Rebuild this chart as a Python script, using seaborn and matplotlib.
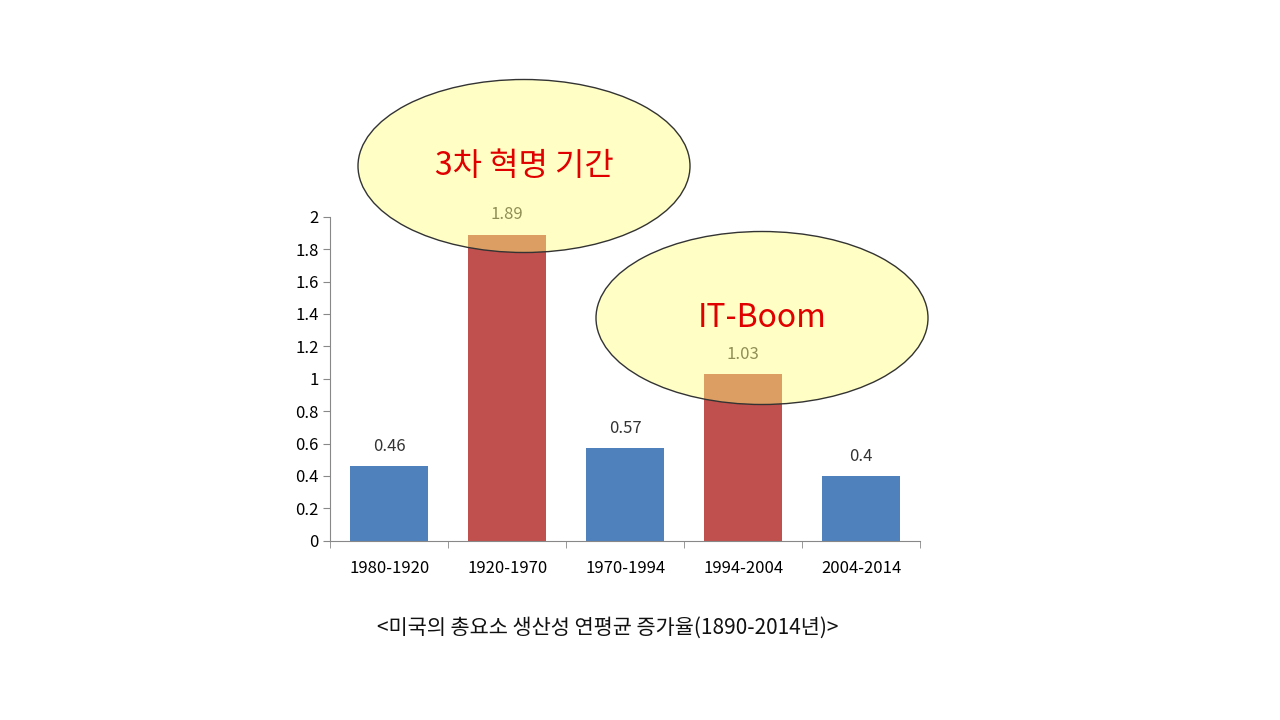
import matplotlib
matplotlib.use("Agg")
import matplotlib.pyplot as plt
import seaborn as sns
import pandas as pd
from matplotlib.patches import Ellipse
from matplotlib.ticker import FixedLocator

periods = ["1980-1920", "1920-1970", "1970-1994", "1994-2004", "2004-2014"]
values = [0.46, 1.89, 0.57, 1.03, 0.4]
labels = ["0.46", "1.89", "0.57", "1.03", "0.4"]
colors = ["#4F81BD", "#C0504D", "#4F81BD", "#C0504D", "#4F81BD"]
yticks = [0, 0.2, 0.4, 0.6, 0.8, 1, 1.2, 1.4, 1.6, 1.8, 2]

plt.rcParams["font.family"] = ["Noto Sans CJK KR", "DejaVu Sans"]
fig = plt.figure(figsize=(12.8, 7.2), dpi=100)
ax = fig.add_axes([0.258, 0.249, 0.461, 0.450])
df = pd.DataFrame({"p": periods, "v": values})
sns.barplot(data=df, x="p", y="v", hue="p", palette=colors, legend=False,
            width=0.66, saturation=1, ax=ax)
ax.set_ylim(0, 2)
ax.set_xlim(-0.5, 4.5)
ax.set_yticks(yticks)
ax.set_yticklabels([f"{t:g}" for t in yticks], fontsize=12)
ax.tick_params(axis="x", length=0, labelsize=12, pad=14)
ax.xaxis.set_minor_locator(FixedLocator([-0.5, 0.5, 1.5, 2.5, 3.5, 4.5]))
ax.tick_params(axis="x", which="minor", length=5, color="#888888")
ax.tick_params(axis="y", length=5, color="#888888")
ax.set_xlabel(""); ax.set_ylabel("")
for s in ["top", "right"]:
    ax.spines[s].set_visible(False)
for s in ["left", "bottom"]:
    ax.spines[s].set_color("#888888")
for i, (v, l) in enumerate(zip(values, labels)):
    ax.text(i, v + 0.07, l, ha="center", va="bottom", fontsize=12, color="#333333")

for cx, cy, txt in [(524, 166, "3차 혁명 기간"), (762, 318, "IT-Boom")]:
    e = Ellipse((cx / 1280, 1 - cy / 720), 332 / 1280, 173 / 720,
                transform=fig.transFigure, facecolor="#FFFF80", alpha=0.45,
                edgecolor="none", zorder=5)
    fig.add_artist(e)
    e2 = Ellipse((cx / 1280, 1 - cy / 720), 332 / 1280, 173 / 720,
                 transform=fig.transFigure, facecolor="none",
                 edgecolor="#333333", lw=1, zorder=6)
    fig.add_artist(e2)
    fig.text(cx / 1280, 1 - cy / 720, txt, ha="center", va="center",
             fontsize=23, color="#E00000", zorder=7)

fig.text(608 / 1280, 1 - 628 / 720, "<미국의 총요소 생산성 연평균 증가율(1890-2014년)>",
         ha="center", va="center", fontsize=15, color="#111111")
fig.savefig("out.png", dpi=100)
